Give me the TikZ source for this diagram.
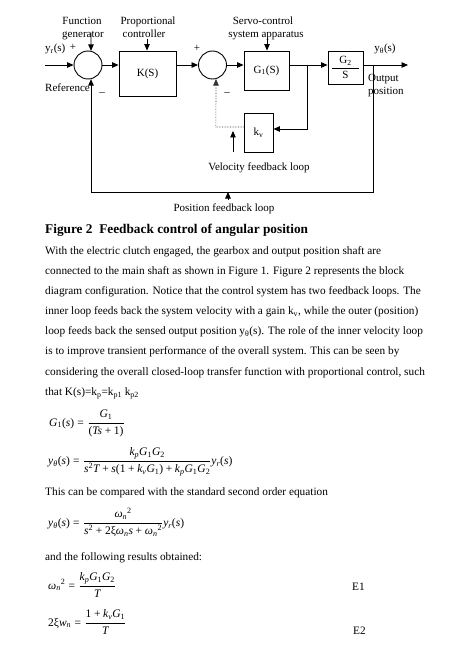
\documentclass[tikz,border=0pt]{standalone}
\usepackage{fontspec}
\usepackage{amsmath}
\setmainfont{Liberation Serif}
\usetikzlibrary{arrows.meta}
\newcommand{\mi}[1]{\textit{#1}}
\newcommand{\mr}[1]{\textrm{#1}}
\newcommand{\eqs}{\mathrel{\textrm{=}}}
\newcommand{\pl}{\mathbin{\textrm{+}}}
\begin{document}
\begin{tikzpicture}[x=1pt,y=-1pt,
  lbl/.style={inner sep=0pt, font=\fontsize{11}{13}\selectfont},
  body/.style={inner sep=0pt, anchor=base west, font=\fontsize{11.3}{13}\selectfont},
  eqn/.style={inner sep=0pt, anchor=base west, font=\fontsize{11.5}{14}\selectfont},
  blk/.style={draw, line width=0.9pt, inner sep=0pt, font=\fontsize{11}{13}\selectfont},
  sum/.style={draw, circle, line width=0.9pt, inner sep=0pt, minimum size=28pt},
  ln/.style={line width=0.85pt},
  arr/.style={line width=0.85pt, -{Triangle[length=6.5pt,width=5.5pt]}},
  dotl/.style={line width=0.6pt, densely dotted, black!80, -{Triangle[length=6.5pt,width=5.5pt]}}
]
\useasboundingbox (0,0) rectangle (457,647);
\fill[white] (0,0) rectangle (457,647);

% blocks
\node[sum] (c1) at (88,65) {};
\node[sum] (c2) at (212.5,65) {};
\node[blk, minimum width=57pt, minimum height=45pt] (K) at (147.5,73.5) {K(S)};
\node[blk, minimum width=45pt, minimum height=39pt] (G1) at (266.5,70.5) {G\textsubscript{1}(S)};
\node[blk, minimum width=35pt, minimum height=33pt] (G2) at (345.5,67.5) {$\dfrac{\hbox to 27pt{\hss G\textsubscript{2}\hss}}{\textrm{S}}$};
\node[blk, minimum width=29pt, minimum height=39pt] (kv) at (258.5,132.5) {k\textsubscript{v}};

% coordinates
\coordinate (in) at (45,65);
\coordinate (b1) at (307,65);
\coordinate (b2) at (373.5,65);
\coordinate (out) at (408,65);
\coordinate (t1) at (90.9,33);
\coordinate (t2) at (147,39);
\coordinate (t3) at (267,38);
\coordinate (v1) at (307,129);
\coordinate (d1) at (215.9,127);
\coordinate (u1) at (233,152);
\coordinate (u2) at (233,131);
\coordinate (p1) at (373.5,192);
\coordinate (q1) at (228,200);

% connectors
\draw[arr] (in) -- (c1);
\draw[arr] (c1.east) -- (c1.east -| K.west);
\draw[arr] (K.east |- c2) -- (c2);
\draw[arr] (c2.east) -- (c2.east -| G1.west);
\draw[ln] (G1.east |- c2) -- (b1);
\draw[arr] (b1) -- (b1 -| G2.west);
\draw[arr] (G2.east |- c2) -- (out);
\draw[arr] (t1) -- (c1.78);
\draw[arr] (t2) -- (t2 |- K.north);
\draw[arr] (t3) -- (t3 |- G1.north);
\draw[arr] (b1) -- (v1) -- (v1 -| kv.east);
\draw[dotl] (d1 -| kv.west) -- (d1) -- (c2.-76);
\draw[arr] (u1) -- (u2);
\draw[arr] (b2) -- (p1) -- (p1 -| c1.-78) -- (c1.-78);
\draw[arr] (q1) -- (q1 |- p1);

% diagram labels
\node[lbl, anchor=base] (fn1) at (82,24.5) {Function};
\node[lbl, anchor=base] (fn2) at (83,37.5) {generator};
\node[lbl, anchor=base] (pc1) at (148,24.5) {Proportional};
\node[lbl, anchor=base] (pc2) at (144,37.5) {controller};
\node[lbl, anchor=base] (sv1) at (263,24.5) {Servo-control};
\node[lbl, anchor=base] (sv2) at (266,37.5) {system apparatus};
\node[lbl, anchor=base west] (yr) at (45,51.5) {y\textsubscript{r}(s)};
\node[lbl] (pl1) at (73,47) {+};
\node[lbl, anchor=base west] (ref) at (45,92) {Reference};
\node[lbl] (mn1) at (102,94) {–};
\node[lbl] (pl2) at (197,48) {+};
\node[lbl] (mn2) at (227,94) {–};
\node[lbl, anchor=base] (yth) at (385,52) {y\textsubscript{θ}(s)};
\node[lbl, anchor=base west] (op1) at (368,81.5) {Output};
\node[lbl, anchor=base west] (op2) at (368,94.5) {position};
\node[lbl, anchor=base] (vfl) at (259,170.5) {Velocity feedback loop};
\node[lbl, anchor=base] (pfl) at (224,211) {Position feedback loop};

% caption and text
\node[body, font=\fontsize{13.3}{15}\selectfont\bfseries] (cap) at (45,233) {Figure 2\ \ Feedback control of angular position};
\node[body] (l1) at (45,254.5) {With the electric clutch engaged, the gearbox and output position shaft are};
\node[body] (l2) at (45,274.5) {connected to the main shaft as shown in Figure 1. Figure 2 represents the block};
\node[body] (l3) at (45,294.5) {diagram configuration. Notice that the control system has two feedback loops. The};
\node[body] (l4) at (45,314.5) {inner loop feeds back the system velocity with a gain k\textsubscript{v}, while the outer (position)};
\node[body] (l5) at (45,334.5) {loop feeds back the sensed output position y\textsubscript{θ}(s). The role of the inner velocity loop};
\node[body] (l6) at (45,354.5) {is to improve transient performance of the overall system. This can be seen by};
\node[body] (l7) at (45,375) {considering the overall closed-loop transfer function with proportional control, such};
\node[body] (l8) at (45,395.5) {that K(s)=k\textsubscript{p}=k\textsubscript{p1} k\textsubscript{p2}};

\node[eqn] (e1) at (49,426) {$\mi{G}_{\mr{1}}\mr{(}\mi{s}\mr{)} \eqs \dfrac{\mi{G}_{\mr{1}}}{\mr{(}\mi{Ts}\pl\mr{1)}}$};
\node[eqn] (e2) at (48,464) {$\mi{y}_{\mi{θ}}\mr{(}\mi{s}\mr{)} \eqs \dfrac{\mi{k}_{\mi{p}}\mi{G}_{\mr{1}}\mi{G}_{\mr{2}}}{\mi{s}^{\mr{2}}\mi{T}\pl\mi{s}\mr{(1}\pl\mi{k}_{\mi{v}}\mi{G}_{\mr{1}}\mr{)}\pl\mi{k}_{\mi{p}}\mi{G}_{\mr{1}}\mi{G}_{\mr{2}}}\mi{y}_{\mi{r}}\mr{(}\mi{s}\mr{)}$};
\node[body] (l9) at (45,495) {This can be compared with the standard second order equation};
\node[eqn] (e3) at (48,526) {$\mi{y}_{\mi{θ}}\mr{(}\mi{s}\mr{)} \eqs \dfrac{{\mi{ω}_{\mi{n}}}^{\mr{2}}}{\mi{s}^{\mr{2}}\pl\mr{2ξ}\mi{ω}_{\mi{n}}\mi{s}\pl{\mi{ω}_{\mi{n}}}^{\mr{2}}}\mi{y}_{\mi{r}}\mr{(}\mi{s}\mr{)}$};
\node[body] (l10) at (45,560) {and the following results obtained:};
\node[eqn] (e4) at (48,589) {${\mi{ω}_{\mi{n}}}^{\mr{2}} \eqs \dfrac{\mi{k}_{\mi{p}}\mi{G}_{\mr{1}}\mi{G}_{\mr{2}}}{\mi{T}}$};
\node[body] (E1) at (352,590) {E1};
\node[eqn] (e5) at (48,626) {$\mr{2ξ}\mi{w}_{\mi{n}} \eqs \dfrac{\mr{1}\pl\mi{k}_{\mi{v}}\mi{G}_{\mr{1}}}{\mi{T}}$};
\node[body] (E2) at (353,634) {E2};
\end{tikzpicture}
\end{document}
